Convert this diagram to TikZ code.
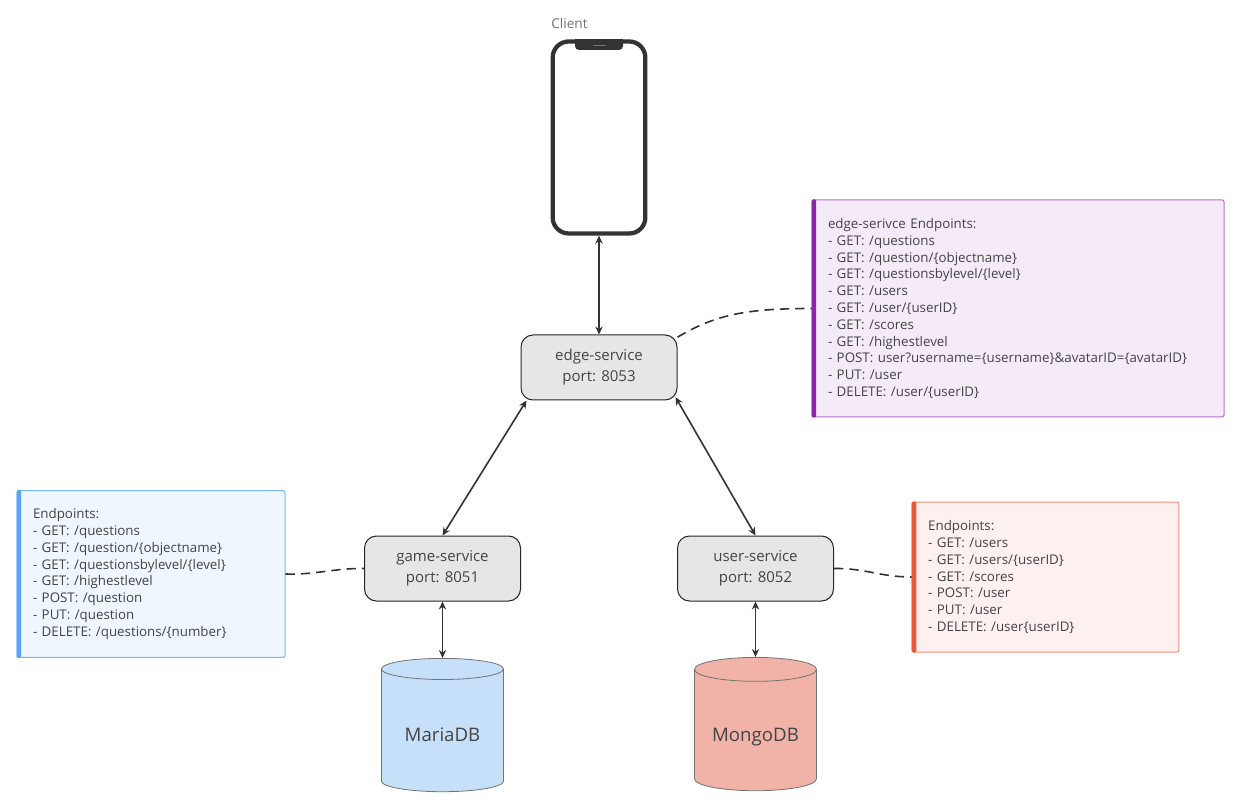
\documentclass[tikz,border=0pt]{standalone}
\usepackage{fontspec}
\setmainfont{Open Sans}
\usepackage{xcolor}
\usetikzlibrary{arrows.meta,shapes.geometric}

\definecolor{inkgrey}{HTML}{444444}
\definecolor{servicegrey}{HTML}{E6E6E6}
\definecolor{bluefill}{HTML}{F0F6FE}
\definecolor{blueedge}{HTML}{78B9F5}
\definecolor{bluebar}{HTML}{5AA5F5}
\definecolor{redfill}{HTML}{FCF1EE}
\definecolor{rededge}{HTML}{F08E78}
\definecolor{redbar}{HTML}{E8583A}
\definecolor{purplefill}{HTML}{F5EAF8}
\definecolor{purpleedge}{HTML}{B96FD0}
\definecolor{purplebar}{HTML}{8E24AA}
\definecolor{mariablue}{HTML}{C6E0FA}
\definecolor{mongored}{HTML}{F1B3A7}

\tikzset{
  service/.style={draw=black!85, fill=servicegrey, rounded corners=9pt, line width=0.75pt,
    minimum width=117pt, minimum height=48.75pt, align=center, text=inkgrey,
    font=\fontsize{11.25}{15.75}\selectfont},
  note/.style={rounded corners=1.5pt, line width=0.75pt, inner xsep=12pt, inner ysep=0pt,
    align=left, text=inkgrey, font=\fontsize{10}{12.6}\selectfont},
  database/.style={cylinder, shape border rotate=90, draw=black!55, line width=0.6pt,
    aspect=0.25, minimum width=91.5pt, minimum height=100pt, text=inkgrey,
    font=\fontsize{14}{16}\selectfont},
  link/.style={<->, >={Stealth[length=6pt,width=5.5pt]}, line width=1.2pt, draw=black!80},
  dashlink/.style={dashed, dash pattern=on 7pt off 4.5pt, line width=1.2pt, draw=black!80}
}

\begin{document}
\begin{tikzpicture}[x=0.75pt, y=-0.75pt]
    \useasboundingbox (0,0) rectangle (1241,812);

    % Draw the client phone
    \node[text=black!55, font=\fontsize{10.2}{12}\selectfont] (client) at (569.5,23) {Client};
    \node[draw=black!80, line width=3.2pt, rounded corners=12pt, minimum width=69.5pt,
      minimum height=144pt] (phone) at (599,137.5) {};
    \fill[black!80, rounded corners=3pt] (575,40) -- (623,40) -- (623,50) -- (575,50) -- cycle;
    \fill[black!80] (575,39) rectangle (623,45);
    \draw[black!55, line width=0.5pt] (593,45) -- (606,45);

    % Draw the services
    \node[service] (edge) at (599,367.5) {edge-service\\port: 8053};
    \node[service] (game) at (442.5,568.5) {game-service\\port: 8051};
    \node[service] (user) at (755.5,568.5) {user-service\\port: 8052};

    % Draw the databases
    \node[database, fill=mariablue] (maria) at (442.5,732.5) {\raisebox{-6.8pt}[0pt][0pt]{MariaDB}};
    \node[database, fill=mongored] (mongo) at (755.5,732.5) {\raisebox{-6.8pt}[0pt][0pt]{MongoDB}};

    % Draw the endpoint notes
    \node[note, draw=purpleedge, fill=purplefill, text width=285pt, minimum height=162.75pt]
      (edgenote) at (1018,308.5) {edge-serivce Endpoints:\\
      - GET: /questions\\
      - GET: /question/\{objectname\}\\
      - GET: /questionsbylevel/\{level\}\\
      - GET: /users\\
      - GET: /user/\{userID\}\\
      - GET: /scores\\
      - GET: /highestlevel\\
      - POST: user?username=\{username\}\&avatarID=\{avatarID\}\\
      - PUT: /user\\
      - DELETE: /user/\{userID\}};
    \node[note, draw=blueedge, fill=bluefill, text width=177pt, minimum height=125pt]
      (gamenote) at (151,574) {Endpoints:\\
      - GET: /questions\\
      - GET: /question/\{objectname\}\\
      - GET: /questionsbylevel/\{level\}\\
      - GET: /highestlevel\\
      - POST: /question\\
      - PUT: /question\\
      - DELETE: /questions/\{number\}};
    \node[note, draw=rededge, fill=redfill, text width=176pt, minimum height=112.5pt]
      (usernote) at (1045.5,577) {Endpoints:\\
      - GET: /users\\
      - GET: /users/\{userID\}\\
      - GET: /scores\\
      - POST: /user\\
      - PUT: /user\\
      - DELETE: /user\{userID\}};

    % Draw the coloured bars
    \fill[purplebar, rounded corners=1pt] (edgenote.north west) rectangle ([xshift=3.5pt]edgenote.south west);
    \fill[bluebar, rounded corners=1pt] (gamenote.north west) rectangle ([xshift=3.5pt]gamenote.south west);
    \fill[redbar, rounded corners=1pt] (usernote.north west) rectangle ([xshift=3.5pt]usernote.south west);

    % Draw the arrows
    \draw[link] (phone.south) -- (edge.north);
    \draw[link] ([xshift=4.5pt]edge.south west) -- (game.north);
    \draw[link] ([xshift=-1.5pt,yshift=2.5pt]edge.south east) -- (user.north);
    \draw[link] (game.south) -- (maria.top);
    \draw[link] (user.south) -- (mongo.top);

    % Draw the dashed lines to the notes
    \draw[dashlink] ([yshift=-2pt]edge.north east) .. controls (715,315) and (745,308.5) .. (edgenote.west);
    \draw[dashlink] (gamenote.east) .. controls (315,575) and (335,568) .. (game.west);
    \draw[dashlink] (user.east) .. controls (865,568) and (880,577) .. (usernote.west);
\end{tikzpicture}
\end{document}
